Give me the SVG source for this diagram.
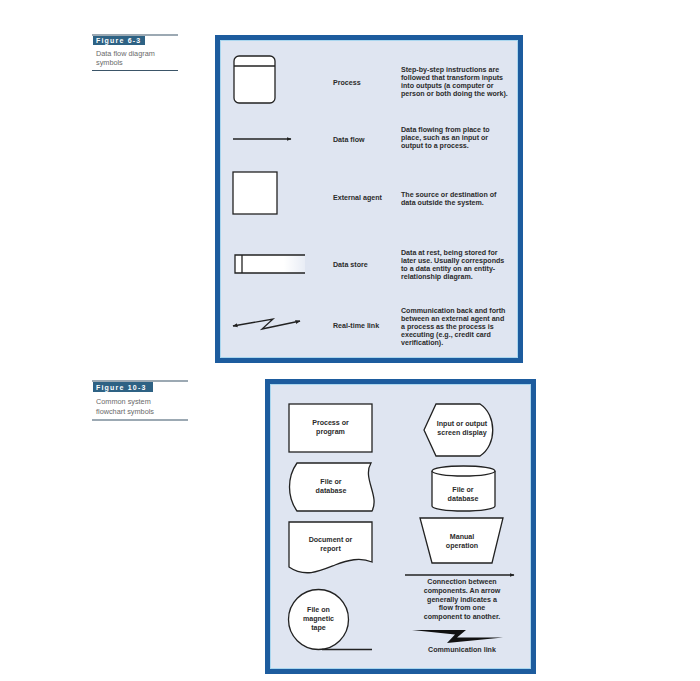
<svg xmlns="http://www.w3.org/2000/svg" width="700" height="681" viewBox="0 0 700 681">
<defs>
<style>
.panel{fill:#dfe5f1;stroke:#1d5c9e;stroke-width:5}
.inner{fill:none;stroke:#a9d6ef;stroke-width:1}
.shape{fill:#ffffff;stroke:#222;stroke-width:1.3}
.line{fill:none;stroke:#222;stroke-width:1.3}
.t{font-family:"Liberation Sans",Arial,sans-serif;font-size:7.1px;font-weight:bold;fill:#2b2b2b}
.c{text-anchor:middle}
.cap{font-family:"Liberation Sans",Arial,sans-serif;font-size:7.3px;fill:#6a6a6a}
.fig{font-family:"Liberation Sans",Arial,sans-serif;font-size:7px;font-weight:bold;fill:#ffffff;letter-spacing:1.2px}
.rule{stroke:#3b5568;stroke-width:1.2}
</style>
<marker id="ah" viewBox="0 0 10 10" refX="9" refY="5" markerWidth="5" markerHeight="5" orient="auto-start-reverse" markerUnits="userSpaceOnUse">
<path d="M0,1 L10,5 L0,9 Z" fill="#222"/>
</marker>
<linearGradient id="fade" x1="0" y1="0" x2="1" y2="0">
<stop offset="0.7" stop-color="#fff"/>
<stop offset="1" stop-color="#fff" stop-opacity="0.3"/>
</linearGradient>
</defs>
<rect width="700" height="681" fill="#fff"/>

<g id="caption1">
<line class="rule" x1="92" y1="35" x2="178" y2="35"/>
<rect x="93" y="36" width="52" height="9" fill="#2e6284"/>
<text class="fig" x="96" y="43">Figure 6-3</text>
<text class="cap" x="96" y="56">Data flow diagram</text>
<text class="cap" x="96" y="65">symbols</text>
<line class="rule" x1="92" y1="70.5" x2="178" y2="70.5"/>
</g>

<g id="caption2">
<line class="rule" x1="92" y1="381" x2="188" y2="381"/>
<rect x="93" y="382" width="60" height="10" fill="#2e6284"/>
<text class="fig" x="96" y="390">Figure 10-3</text>
<text class="cap" x="96" y="404">Common system</text>
<text class="cap" x="96" y="414">flowchart symbols</text>
<line class="rule" x1="92" y1="420" x2="188" y2="420"/>
</g>

<g id="panel1">
<rect class="panel" x="217.5" y="37.5" width="303" height="323"/>
<rect class="inner" x="220.5" y="40.5" width="297" height="317"/>
</g>

<g id="process">
<rect class="shape" x="234" y="56" width="41" height="47" rx="5"/>
<line class="line" x1="234" y1="66" x2="275" y2="66"/>
<text class="t" x="333" y="85">Process</text>
<text class="t" x="401" y="72">Step-by-step instructions are</text>
<text class="t" x="401" y="80">followed that transform inputs</text>
<text class="t" x="401" y="88">into outputs (a computer or</text>
<text class="t" x="401" y="96">person or both doing the work).</text>
</g>

<g id="dataflow">
<text class="t" x="333" y="142">Data flow</text>
<text class="t" x="401" y="132">Data flowing from place to</text>
<text class="t" x="401" y="140">place, such as an input or</text>
<text class="t" x="401" y="148">output to a process.</text>
</g>

<g id="external">
<rect class="shape" x="233" y="172" width="44" height="42"/>
<text class="t" x="333" y="200">External agent</text>
<text class="t" x="401" y="197">The source or destination of</text>
<text class="t" x="401" y="205">data outside the system.</text>
</g>

<g id="datastore">
<rect x="235" y="255" width="70" height="18" fill="url(#fade)"/>
<path class="line" d="M305,255 H235 V273 H305"/>
<line class="line" x1="242" y1="255" x2="242" y2="273"/>
<text class="t" x="333" y="267">Data store</text>
<text class="t" x="401" y="255">Data at rest, being stored for</text>
<text class="t" x="401" y="263">later use. Usually corresponds</text>
<text class="t" x="401" y="271">to a data entity on an entity-</text>
<text class="t" x="401" y="279">relationship diagram.</text>
</g>

<g id="realtime">
<text class="t" x="333" y="328">Real-time link</text>
<text class="t" x="401" y="313">Communication back and forth</text>
<text class="t" x="401" y="321">between an external agent and</text>
<text class="t" x="401" y="329">a process as the process is</text>
<text class="t" x="401" y="337">executing (e.g., credit card</text>
<text class="t" x="401" y="345">verification).</text>
</g>

<g id="panel2">
<rect class="panel" x="267.5" y="381.5" width="266" height="290"/>
<rect class="inner" x="270.5" y="384.5" width="260" height="284"/>
</g>

<g id="fc-process">
<rect class="shape" x="289" y="404" width="83" height="48"/>
<text class="t c" x="330.5" y="425">Process or</text>
<text class="t c" x="330.5" y="434">program</text>
</g>

<g id="fc-io">
<path class="shape" d="M424,430 L436,404 H480 C497,415 497,445 480,456 H436 Z"/>
<text class="t c" x="462" y="426">Input or output</text>
<text class="t c" x="462" y="435">screen display</text>
</g>

<g id="fc-file">
<path class="shape" d="M297,463 H371 C362,478 380,496 372,511 H297 C287,497 287,477 297,463 Z"/>
<text class="t c" x="331" y="484">File or</text>
<text class="t c" x="331" y="493">database</text>
</g>

<g id="fc-cylinder">
<path class="shape" d="M432,471 V506 A31.5,5 0 0 0 495,506 V471"/>
<ellipse class="shape" cx="463.5" cy="471" rx="31.5" ry="5"/>
<text class="t c" x="463" y="492">File or</text>
<text class="t c" x="463" y="501">database</text>
</g>

<g id="fc-document">
<path class="shape" d="M289,522 H372 V562 C360,557 348,560 335,565 C320,571 305,578 289,567 Z"/>
<text class="t c" x="330.5" y="542">Document or</text>
<text class="t c" x="330.5" y="551">report</text>
</g>

<g id="fc-manual">
<path class="shape" d="M420,518 H503 L492,563 H432 Z"/>
<text class="t c" x="462" y="539">Manual</text>
<text class="t c" x="462" y="548">operation</text>
</g>

<g id="fc-connection">
<text class="t c" x="462" y="584">Connection between</text>
<text class="t c" x="462" y="593">components. An arrow</text>
<text class="t c" x="462" y="602">generally indicates a</text>
<text class="t c" x="462" y="610">flow from one</text>
<text class="t c" x="462" y="619">component to another.</text>
</g>

<g id="fc-tape">
<circle class="shape" cx="318.5" cy="619.5" r="30"/>
<line class="line" x1="322" y1="649.5" x2="372" y2="649.5" stroke-width="1.8"/>
<text class="t c" x="318.5" y="612">File on</text>
<text class="t c" x="318.5" y="621">magnetic</text>
<text class="t c" x="318.5" y="630">tape</text>
</g>

<g id="fc-comm">
<path d="M412,630 L466,630 L457,637.5 L503,637.5 L447,643 L455,634.5 Z" fill="#111"/>
<text class="t c" x="462" y="652">Communication link</text>
</g>

<g id="connectors">
<line class="line" x1="233" y1="139" x2="291" y2="139" marker-end="url(#ah)"/>
<polyline class="line" points="233,326 273,319 262,329 300,321" marker-start="url(#ah)" marker-end="url(#ah)"/>
<line class="line" x1="405" y1="575" x2="514" y2="575" marker-end="url(#ah)"/>
</g>
</svg>
